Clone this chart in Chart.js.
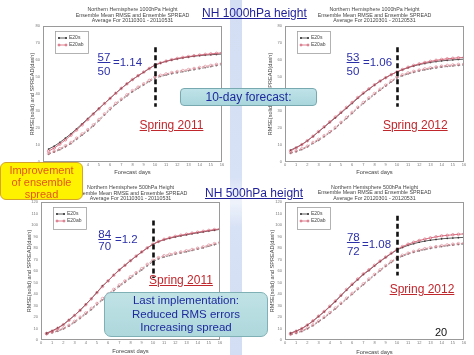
<!DOCTYPE html>
<html><head><meta charset="utf-8">
<script src="https://cdn.jsdelivr.net/npm/chart.js@4.4.1/dist/chart.umd.min.js"></script>
<style>
html,body{margin:0;padding:0;background:#fff;}
#page{position:relative;width:474px;height:355px;overflow:hidden;background:#fff;font-family:"Liberation Sans",Arial,sans-serif;}
.band{position:absolute;left:230px;top:0;width:12px;height:355px;
 background:linear-gradient(to bottom,#d3ddf3 0%,#d8e2f6 50%,#eef3fb 57%,#d8e2f6 64%,#d3ddf3 100%);}
canvas{position:absolute;}
.t{position:absolute;white-space:nowrap;line-height:1;}
.c{transform:translateX(-50%);}
.frac{color:#2b2fa8;font-size:11.5px;}
.u{text-decoration:underline;}
.spring{color:#c0272d;font-size:12px;text-decoration:underline;}
.head{color:#1f1f9a;font-size:12px;text-decoration:underline;}
.box{position:absolute;box-sizing:border-box;text-align:center;white-space:nowrap;}
</style></head>
<body><div id="page">
<div class="band"></div>
<canvas id="c1" width="237" height="178" style="left:0;top:0"></canvas>
<canvas id="c2" width="237" height="178" style="left:237px;top:0"></canvas>
<canvas id="c3" width="237" height="177" style="left:0;top:178px"></canvas>
<canvas id="c4" width="237" height="177" style="left:237px;top:178px"></canvas>

<div class="t head" style="left:202px;top:6.6px">NH 1000hPa height</div>
<div class="t head" style="left:205px;top:186.6px">NH 500hPa height</div>

<div class="t frac u c" style="left:104px;top:52.4px">57</div>
<div class="t frac c" style="left:104px;top:65.9px">50</div>
<div class="t frac" style="left:113px;top:57.4px">=1.14</div>
<div class="t spring c" style="left:171.5px;top:118.6px">Spring 2011</div>

<div class="t frac u c" style="left:353px;top:52.4px">53</div>
<div class="t frac c" style="left:353px;top:65.9px">50</div>
<div class="t frac" style="left:363px;top:57.4px">=1.06</div>
<div class="t spring c" style="left:415.3px;top:118.6px">Spring 2012</div>

<div class="t frac u c" style="left:104.7px;top:228.7px">84</div>
<div class="t frac c" style="left:104.7px;top:241.1px">70</div>
<div class="t frac" style="left:115px;top:234.1px">=1.2</div>
<div class="t spring c" style="left:181px;top:274.1px">Spring 2011</div>

<div class="t frac u c" style="left:353.3px;top:232.1px">78</div>
<div class="t frac c" style="left:353.3px;top:245.7px">72</div>
<div class="t frac" style="left:362px;top:239.1px">=1.08</div>
<div class="t spring c" style="left:422px;top:283.1px">Spring 2012</div>

<div class="t c" style="left:441px;top:326.6px;font-size:11px;color:#111">20</div>

<div class="box" style="left:180px;top:88px;width:137px;height:18px;border:1px solid #79a9b0;border-radius:4px;background:linear-gradient(#bfe3e8,#a9d6dc);color:#1d2a9e;font-size:12px;line-height:16px;">10-day forecast:</div>

<div class="box" style="left:104px;top:292px;width:164px;height:45px;border:1px solid #7fb0b5;border-radius:7px;background:linear-gradient(#c0e2e5,#aed8dc);color:#1d2a9e;font-size:11.5px;line-height:13.5px;padding-top:1.4px;">Last implementation:<br>Reduced RMS errors<br>Increasing spread</div>

<div class="box" style="left:0;top:162px;width:83px;height:38px;border:1px solid #d3a32a;border-radius:6px;background:#fff200;color:#e2581a;font-size:11px;line-height:12.3px;padding-top:0.5px;">Improvement<br>of ensemble<br>spread</div>

</div>
<script>
// ---------- data ----------
const days = [0.5,1,1.5,2,2.5,3,3.5,4,4.5,5,5.5,6,6.5,7,7.5,8,8.5,9,9.5,10,10.5,11,11.5,12,12.5,13,13.5,14,14.5,15,15.5,16];
const seriesNames = ['E20s','E20ab'];
const xTickLabels = [0,1,2,3,4,5,6,7,8,9,10,11,12,13,14,15,16];

const h1000_2011_rmse_E20s   = [7.6,9.3,11.5,14,16.6,19.5,22.5,25.5,28.5,31.5,34.5,37.5,40.5,43.3,46,48.5,50.7,52.8,55,57,58.2,59.2,60,60.7,61.3,61.8,62.2,62.6,62.9,63.1,63.3,63.5];
const h1000_2011_rmse_E20ab  = [6.4,8.2,10.5,13,15.8,18.8,21.9,25,28.2,31.3,34.4,37.4,40.4,43.3,46,48.5,50.8,52.9,55,57,58.3,59.3,60.2,60.9,61.5,62,62.5,62.9,63.3,63.6,63.9,64.2];
const h1000_2011_spread_E20s = [4.6,5.8,7.2,8.9,10.8,13.3,15.8,18.3,21.1,24.3,27.6,30.8,33.8,36.3,38.8,41.3,43.3,45.3,47.3,49.3,50.3,51.1,51.9,52.5,53.1,53.7,54.3,54.9,55.5,56.1,56.7,57.3];
const h1000_2011_spread_E20ab= [5,6.3,7.8,9.5,11.5,14,16.5,19,21.8,25,28.3,31.5,34.5,37,39.5,42,44,46,48,50,51,51.8,52.6,53.2,53.8,54.4,55,55.6,56.2,56.8,57.4,58];

const h1000_2012_rmse_E20s   = [7,8.5,10.3,12.5,15.1,17.8,20.5,23.3,26,28.8,31.7,34.5,37.5,40.3,42.8,45.3,47.6,49.6,51.4,53,54.3,55.5,56.5,57.3,58,58.6,59.1,59.5,59.8,60.1,60.3,60.5];
const h1000_2012_rmse_E20ab  = [6.6,8.3,10.2,12.5,15.1,17.9,20.7,23.6,26.4,29.2,32.1,35,37.9,40.6,43,45.4,47.6,49.6,51.4,53,54.4,55.7,56.8,57.7,58.5,59.2,59.8,60.3,60.7,61,61.3,61.5];
const h1000_2012_spread_E20s = [5.2,6.1,7.3,8.8,10.9,12.7,14.9,17.2,19.7,22.7,25.6,28.6,31.6,34.4,37.1,39.7,42.2,44.6,47.1,49.4,50.7,51.8,52.7,53.5,54.2,54.8,55.3,55.8,56.2,56.5,56.8,57];
const h1000_2012_spread_E20ab= [5.5,6.5,7.8,9.3,11.5,13.3,15.5,17.8,20.3,23.3,26.2,29.2,32.2,35,37.7,40.3,42.8,45.2,47.7,50,51.3,52.4,53.3,54.1,54.8,55.4,55.9,56.4,56.8,57.1,57.4,57.6];

const h500_2011_rmse_E20s    = [6,8,10.5,13.5,17.5,21.5,26,31,36,41.5,47,51.5,56.5,61,65,69,72.8,76.5,80,83.2,85.5,87.2,88.5,89.6,90.6,91.5,92.4,93.2,94,94.8,95.5,96.2];
const h500_2011_rmse_E20ab   = [5.6,7.7,10.2,13.3,17.2,21.3,25.8,30.7,35.8,41.2,46.6,51.4,56.3,60.8,64.9,69,72.9,76.6,80.1,83.3,85.7,87.5,88.9,90.1,91.1,92,92.9,93.7,94.5,95.3,96,96.6];
const h500_2011_spread_E20s  = [5.1,6.3,7.7,9.6,12,15.3,18.8,22.5,26.4,30.6,34.8,38.8,42.8,46.6,50.1,53.8,57.3,60.8,64.5,68.1,70.4,72.1,73.4,74.6,75.6,76.7,77.8,78.9,80.1,81.5,82.8,84];
const h500_2011_spread_E20ab = [5.5,6.8,8.3,10.3,12.8,16.2,19.8,23.5,27.5,31.8,36,40,44,47.8,51.3,55,58.5,62,65.8,69.3,71.6,73.3,74.5,75.6,76.6,77.6,78.7,79.8,81,82.5,83.8,85];

const h500_2012_rmse_E20s    = [6,7.8,10,13,16.5,20.5,24.5,29,33.5,38.5,43.5,48,52.5,57,60.5,64.5,68.3,71.8,75.2,78.3,80.5,82.3,83.8,85,86,86.8,87.4,88,88.4,88.7,89,89.2];
const h500_2012_rmse_E20ab   = [5.7,7.6,9.9,13,16.6,20.7,24.8,29.3,33.9,38.9,43.9,48.5,53,57.4,61,64.9,68.6,72.1,75.5,78.7,81.2,83.3,85,86.5,87.7,88.8,89.7,90.5,91,91.5,91.9,92.3];
const h500_2012_spread_E20s  = [4.7,5.9,7.5,9.7,12.5,15.8,19.2,23,27,31.2,35.5,39.7,43.9,48,52.2,56.2,60.2,64,67.5,70.7,72.9,74.7,76.2,77.5,78.6,79.6,80.4,81.2,81.9,82.5,83,83.4];
const h500_2012_spread_E20ab = [5,6.3,8,10.3,13.2,16.5,20,23.8,27.8,32,36.3,40.5,44.7,48.8,53,57,61,64.8,68.3,71.5,73.7,75.5,77,78.3,79.4,80.4,81.2,82,82.7,83.3,83.8,84.2];

const titles1000_2011 = ['Northern Hemisphere 1000hPa Height','Ensemble Mean RMSE and Ensemble SPREAD','Average For 20110301 - 20110531'];
const titles1000_2012 = ['Northern Hemisphere 1000hPa Height','Ensemble Mean RMSE and Ensemble SPREAD','Average For 20120301 - 20120531'];
const titles500_2011  = ['Northern Hemisphere 500hPa Height','Ensemble Mean RMSE and Ensemble SPREAD','Average For 20110301 - 20110531'];
const titles500_2012  = ['Northern Hemisphere 500hPa Height','Ensemble Mean RMSE and Ensemble SPREAD','Average For 20120301 - 20120531'];

const yMax1000 = 80, yMax500 = 120;
const markerDay = 10;
// ---------- drawing ----------
Chart.defaults.font.family = '"Liberation Sans", Arial, sans-serif';
const colS = '#333333', colAB = '#d35f73', colSs = '#6a6a6a', colABs = '#d98390';

const extras = {
  id:'extras',
  afterDatasetsDraw(chart, args, o){
    const {ctx, chartArea:a, scales:{x,y}} = chart;
    ctx.save();
    ctx.strokeStyle='#9a9a9a'; ctx.lineWidth=1;
    ctx.strokeRect(a.left+0.5, a.top+0.5, a.right-a.left-1, a.bottom-a.top-1);
    const px = Math.round(x.getPixelForValue(o.day))+0.5;
    ctx.strokeStyle='#111'; ctx.lineWidth=2.6; ctx.setLineDash([5,3]);
    ctx.beginPath(); ctx.moveTo(px, y.getPixelForValue(o.range[0])); ctx.lineTo(px, y.getPixelForValue(o.range[1])); ctx.stroke();
    ctx.setLineDash([]);
    const bx=a.left+12, by=a.top+5, bw=33, bh=22;
    ctx.fillStyle='#fff'; ctx.fillRect(bx,by,bw,bh);
    ctx.strokeStyle='#a0a0a0'; ctx.lineWidth=0.8; ctx.strokeRect(bx+0.5,by+0.5,bw,bh);
    const cols=[colS,colAB];
    o.names.forEach((n,i)=>{
      const yy = by+7+i*7;
      ctx.strokeStyle=cols[i]; ctx.lineWidth=0.8;
      ctx.beginPath(); ctx.moveTo(bx+3,yy); ctx.lineTo(bx+12,yy); ctx.stroke();
      ctx.beginPath(); ctx.arc(bx+4,yy,1,0,Math.PI*2);
      if(i===0){ctx.fillStyle=cols[i];ctx.fill();} else {ctx.stroke();}
      ctx.beginPath(); ctx.arc(bx+11,yy,1,0,Math.PI*2);
      if(i===0){ctx.fillStyle=cols[i];ctx.fill();} else {ctx.stroke();}
      ctx.fillStyle='#444'; ctx.font='5px "Liberation Sans", Arial'; ctx.textBaseline='middle'; ctx.textAlign='left';
      ctx.fillText(n,bx+14,yy);
    });
    ctx.restore();
  }
};

function pts(arr){ return days.map((d,i)=>({x:d,y:arr[i]})); }

function makeChart(id, cfg){
  const ds = [
    {label:seriesNames[0]+' RMSE', data:pts(cfg.rs), borderColor:colS, borderWidth:0.8, pointRadius:0.85, pointBackgroundColor:colS, pointBorderWidth:0, order:2},
    {label:seriesNames[1]+' RMSE', data:pts(cfg.ra), borderColor:colAB, borderWidth:0.9, pointRadius:1.3, pointBackgroundColor:'rgba(255,255,255,0)', pointBorderColor:colAB, pointBorderWidth:0.6, order:1},
    {label:seriesNames[0]+' SPREAD', data:pts(cfg.ss), borderColor:colSs, borderWidth:0.8, borderDash:[2.5,2], pointRadius:0.8, pointBackgroundColor:colSs, pointBorderWidth:0, order:4},
    {label:seriesNames[1]+' SPREAD', data:pts(cfg.sa), borderColor:colABs, borderWidth:0.9, borderDash:[2.5,2], pointRadius:1.3, pointBackgroundColor:'rgba(255,255,255,0)', pointBorderColor:colABs, pointBorderWidth:0.6, order:3}
  ];
  new Chart(document.getElementById(id), {
    type:'line',
    data:{datasets:ds},
    options:{
      responsive:false, animation:false, events:[],
      layout:{padding:{left:0,right:cfg.padR,top:0,bottom:0}, autoPadding:false},
      plugins:{
        legend:{display:false}, tooltip:{enabled:false},
        title:{display:true, fullSize:false, text:cfg.title, color:'#444', font:{size:5.3, lineHeight:1, weight:'normal'}, padding:{top:cfg.tTop, bottom:cfg.tBot}},
        extras:{day:markerDay, range:cfg.vr, names:seriesNames}
      },
      scales:{
        x:{type:'linear', min:xTickLabels[0], max:xTickLabels[xTickLabels.length-1],
           afterFit(s){s.height=cfg.xH;},
           afterBuildTicks(s){s.ticks = xTickLabels.map(v=>({value:v}));},
           ticks:{font:{size:4}, color:'#777', padding:0.5, maxRotation:0, autoSkip:false},
           grid:{display:true, drawOnChartArea:false, drawTicks:false},
           border:{display:false},
           title:{display:true, text:'Forecast days', color:'#444', font:{size:5.8, lineHeight:1}, padding:{top:0,bottom:cfg.xtPad}}},
        y:{type:'linear', min:0, max:cfg.yMax,
           afterFit(s){s.width=cfg.yW;},
           ticks:{stepSize:10, font:{size:4}, color:'#777', padding:3, autoSkip:false},
           grid:{display:true, drawOnChartArea:false, drawTicks:false},
           border:{display:false},
           title:{display:true, text:'RMSE(solid) and SPREAD(dash)', color:'#444', font:{size:5.6, lineHeight:1}, padding:{top:cfg.ytPad,bottom:0}}}
      }
    },
    plugins:[extras]
  });
}

makeChart('c1',{rs:h1000_2011_rmse_E20s, ra:h1000_2011_rmse_E20ab, ss:h1000_2011_spread_E20s, sa:h1000_2011_spread_E20ab,
  title:titles1000_2011, yMax:yMax1000, vr:[67.5,32.5], padR:15, yW:43, xH:16, tTop:7.35, tBot:2.75, xtPad:3.1, ytPad:29.2});
makeChart('c2',{rs:h1000_2012_rmse_E20s, ra:h1000_2012_rmse_E20ab, ss:h1000_2012_spread_E20s, sa:h1000_2012_spread_E20ab,
  title:titles1000_2012, yMax:yMax1000, vr:[67.5,32.5], padR:10, yW:48, xH:16, tTop:7.35, tBot:2.75, xtPad:2.8, ytPad:30.5});
makeChart('c3',{rs:h500_2011_rmse_E20s, ra:h500_2011_rmse_E20ab, ss:h500_2011_spread_E20s, sa:h500_2011_spread_E20ab,
  title:titles500_2011, yMax:yMax500, vr:[104,54], padR:17, yW:41, xH:15, tTop:7.35, tBot:0.75, xtPad:1.1, ytPad:26.2});
makeChart('c4',{rs:h500_2012_rmse_E20s, ra:h500_2012_rmse_E20ab, ss:h500_2012_spread_E20s, sa:h500_2012_spread_E20ab,
  title:titles500_2012, yMax:yMax500, vr:[108,56], padR:10, yW:48, xH:15, tTop:6.8, tBot:1.3, xtPad:0.1, ytPad:32.2});
</script>
</body></html>
